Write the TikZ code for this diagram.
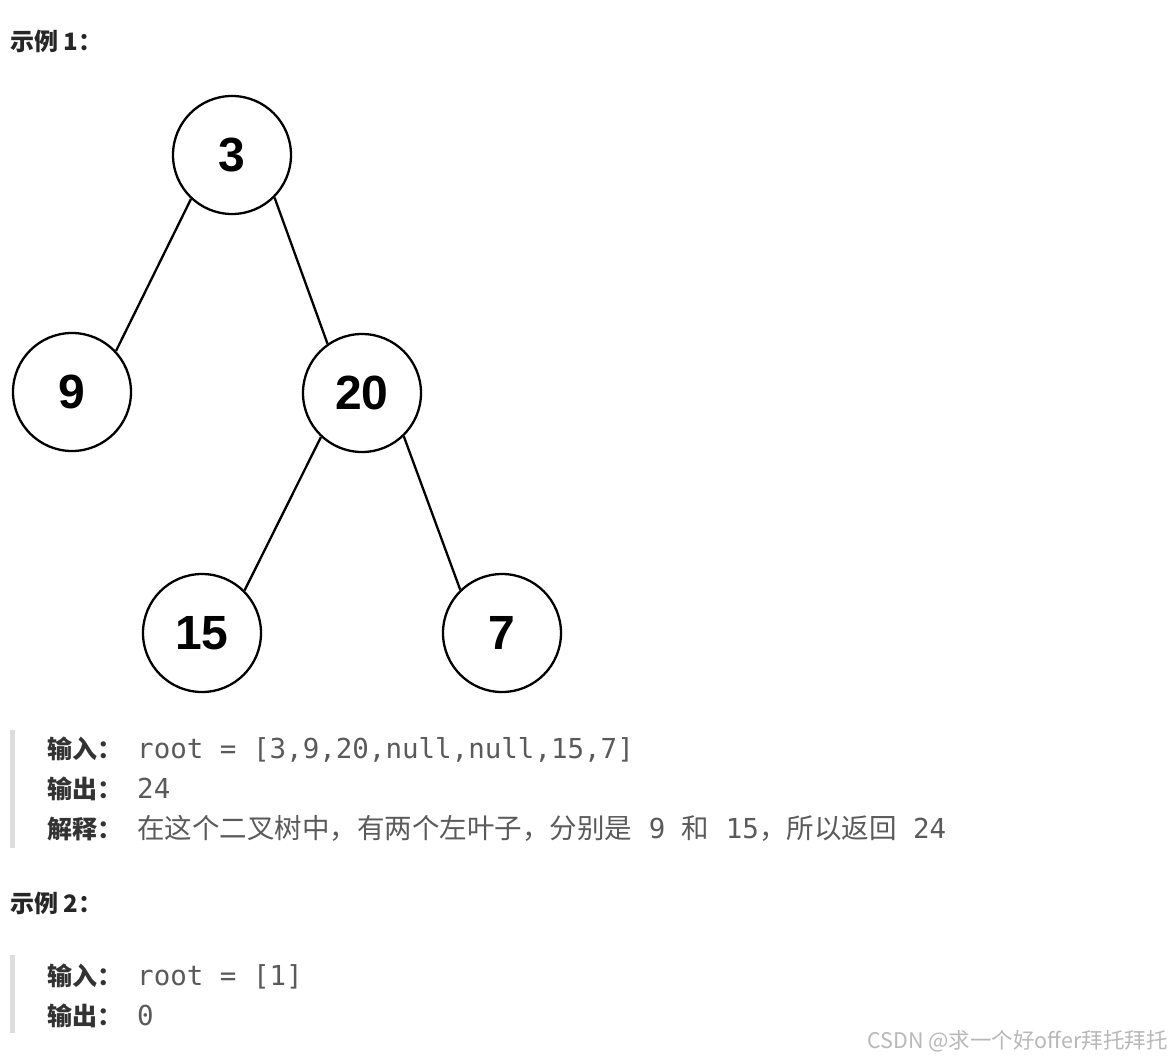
\documentclass[tikz,border=0pt]{standalone}
\usepackage{fontspec}
\setmainfont{Liberation Sans}
\newfontfamily\cjk{Noto Sans CJK SC}
\newfontfamily\mono{DejaVu Sans Mono}
\definecolor{lab}{HTML}{333333}
\definecolor{code}{HTML}{5A5A5A}
\definecolor{bar}{HTML}{DDDDDD}
\begin{document}
\begin{tikzpicture}[x=1pt,y=-1pt,
  tn/.style={circle,draw,line width=2.3pt,minimum size=118pt,inner sep=0pt,font=\fontsize{48}{48}\selectfont\bfseries},
  ed/.style={line width=2.3pt},
  hd/.style={anchor=base west,inner sep=0pt,font=\fontsize{24}{24}\selectfont\bfseries\cjk,text=black!85},
  lb/.style={anchor=base west,inner sep=0pt,font=\fontsize{25}{25}\selectfont\bfseries\cjk,text=lab},
  cd/.style={anchor=base west,inner sep=0pt,font=\fontsize{27.5}{27.5}\selectfont\mono,text=code}]
\useasboundingbox (0,0) rectangle (1174,1060);
\node[hd] (h1) at (10,50) {示例 1：};
\node[tn] (n3) at (232,155) {3};
\node[tn] (n9) at (72,392) {9};
\node[tn] (n20) at (362,393) {20};
\node[tn] (n15) at (202,633) {15};
\node[tn] (n7) at (502,633) {7};
\draw[ed] (n3.227) -- (n9.43);
\draw[ed] (n3.315) -- (n20.125);
\draw[ed] (n20.227) -- (n15.45);
\draw[ed] (n20.314) -- (n7.134);
\fill[bar] (10,730) rectangle (15,848);
\node[lb] (l1) at (47,758) {输入：};
\node[cd] (c1) at (137,758) {root = [3,9,20,null,null,15,7]};
\node[lb] (l2) at (47,798) {输出：};
\node[cd] (c2) at (137,798) {24};
\node[lb] (l3) at (47,838) {解释：};
\node[cd] (c3) at (137,838) {{\cjk 在这个二叉树中，有两个左叶子，分别是} 9 {\cjk 和} 15{\cjk ，所以返回} 24};
\node[hd] (h2) at (10,912) {示例 2：};
\fill[bar] (10,955) rectangle (15,1033);
\node[lb] (l4) at (47,985) {输入：};
\node[cd] (c4) at (137,985) {root = [1]};
\node[lb] (l5) at (47,1025) {输出：};
\node[cd] (c5) at (137,1025) {0};
\node[anchor=base east,inner sep=0pt,font=\fontsize{21.5}{21.5}\selectfont\cjk,text=black!28] (wm) at (1168,1048) {CSDN @求一个好offer拜托拜托};
\end{tikzpicture}
\end{document}
